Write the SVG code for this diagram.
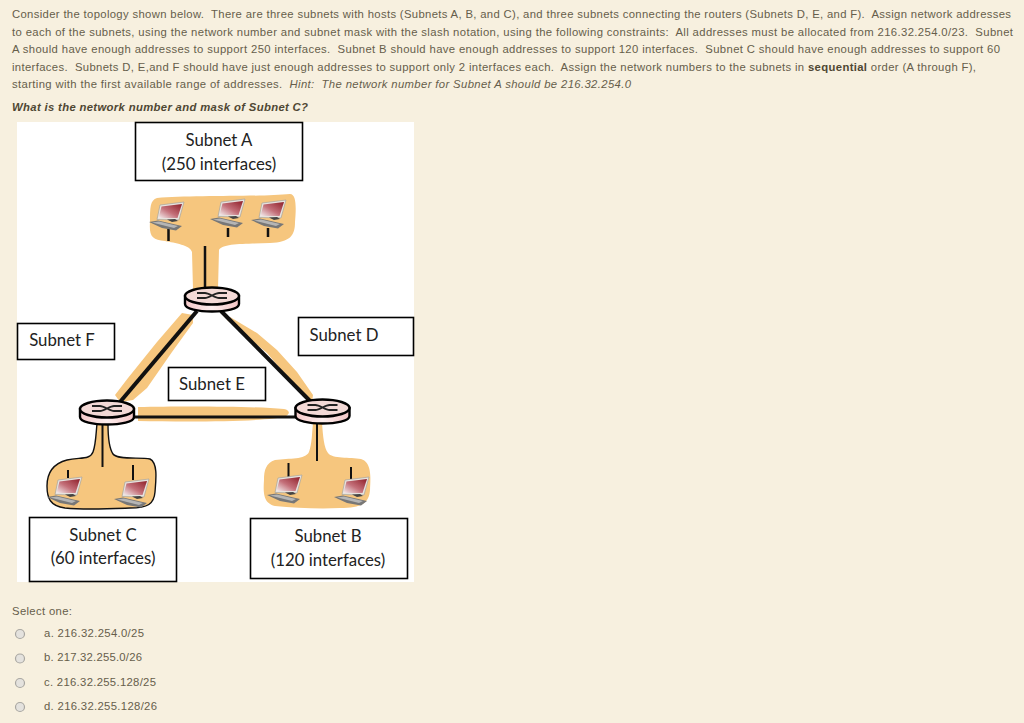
<svg xmlns="http://www.w3.org/2000/svg" xmlns:xlink="http://www.w3.org/1999/xlink" width="1024" height="723" viewBox="0 0 1024 723">
<style>
.t{font-family:"Liberation Sans",Arial,sans-serif;font-size:11.3px;fill:#665e4b;white-space:pre}
.i{font-style:italic}
.b{font-weight:bold;fill:#4f4733}
.box{fill:#fff;stroke:#000;stroke-width:1.6}
.lbl{font-family:Lato,"Open Sans",sans-serif;font-size:16.800px;fill:#222;text-anchor:middle}
.wire{stroke:#111;fill:none;stroke-linecap:butt}
.blob{fill:#f6c67e}
.radio{fill:#e4e2de;stroke:#a9a7a2;stroke-width:1.2}
</style>
<defs>
<linearGradient id="scr" x1="1" y1="0" x2="0" y2="1"><stop offset="0" stop-color="#8f1f29"/><stop offset=".55" stop-color="#c4707a"/><stop offset="1" stop-color="#f4eeee"/></linearGradient>
<linearGradient id="rt" x1="0" y1="0" x2="1" y2="0"><stop offset="0" stop-color="#f5c9c9"/><stop offset=".5" stop-color="#fdeeee"/><stop offset="1" stop-color="#f3c4c4"/></linearGradient>
<g id="laptop">
<path d="M-7 -10 L17 -13 L12 5 L-10 4.500 Z" fill="#e6e3df" stroke="#a8a39b" stroke-width=".7"/>
<path d="M-5.500 -8.500 L15 -11 L10.500 3 L-8.500 3 Z" fill="url(#scr)"/>
<path d="M0 4.500 L5 7 L11 6 L8 4 Z" fill="#444"/>
<path d="M-18 7 L-9 5.500 L15 11 L9 15.500 L-5 13 Z" fill="#777"/>
<path d="M-15 7.500 L-8 6.500 L11 11 L7 13 Z" fill="#b5b5b5"/>
</g>
<g id="router">
<path d="M-27 -3 V5 C-27 15 27 15 27 5 V-3 Z" fill="url(#rt)" stroke="#000" stroke-width="2.400"/>
<ellipse cx="0" cy="-3" rx="27" ry="8.500" fill="#f3d9d6" stroke="#000" stroke-width="2.400"/>
<path d="M-15 -6 H-7 C-3 -6 3 -1 7 -1 H15 M-15 -1 H-7 C-3 -1 3 -6 7 -6 H15" fill="none" stroke="#222" stroke-width="1.800"/>
</g>
</defs>
<rect width="1024" height="723" fill="#f7f0df"/>
<rect x="17" y="122" width="397" height="460" fill="#fff"/>

<g id="question">
<text class="t" x="12" y="18" textLength="999" lengthAdjust="spacing">Consider the topology shown below.  There are three subnets with hosts (Subnets A, B, and C), and three subnets connecting the routers (Subnets D, E, and F).  Assign network addresses</text>
<text class="t" x="12" y="35.500" textLength="1001" lengthAdjust="spacing">to each of the subnets, using the network number and subnet mask with the slash notation, using the following constraints:  All addresses must be allocated from 216.32.254.0/23.  Subnet</text>
<text class="t" x="12" y="53" textLength="988" lengthAdjust="spacing">A should have enough addresses to support 250 interfaces.  Subnet B should have enough addresses to support 120 interfaces.  Subnet C should have enough addresses to support 60</text>
<text class="t" x="12" y="70.500" textLength="964" lengthAdjust="spacing">interfaces.  Subnets D, E,and F should have just enough addresses to support only 2 interfaces each.  Assign the network numbers to the subnets in <tspan font-weight="bold" fill="#4f4733">sequential</tspan> order (A through F),</text>
<text class="t" x="12" y="88" textLength="619" lengthAdjust="spacing">starting with the first available range of addresses.  <tspan class="i">Hint:  The network number for Subnet A should be 216.32.254.0</tspan></text>
<text class="t i b" x="12" y="111" textLength="296" lengthAdjust="spacing">What is the network number and mask of Subnet C?</text>
</g>

<g id="connectors">
<path class="blob" d="M182 313 L193 315 L193 323 L172 352 L147 388 L133 400 L120 402 L115 395 L128 378 L157 342 Z"/>
<path class="blob" d="M230 317 L257 333 L277 350 L297 372 L313 395 L312 402 L300 392 L267 353 L227 320 Z"/>
<path class="blob" d="M138 407 C180 406 250 406 284 409 C290 410 290 414 286 416 C270 422 190 422 138 421 Z"/>
<path class="wire" stroke-width="4" d="M197 311 L120 402"/>
<path class="wire" stroke-width="4" d="M221 311 L311 402"/>
<path class="wire" stroke-width="3" d="M134 417 H297"/>
</g>

<g id="lan-a">
<path class="blob" d="M157 198 C190 195 260 197 290 194 C297 194 296 210 295 222 C295 236 290 242 270 243 C245 244 222 243 219 250 L218 289 H193 L192 252 C190 245 175 243 165 241 C152 240 149 236 150 222 C150 208 150 200 157 198 Z"/>
<path class="wire" stroke-width="2.500" d="M168.500 229 V241 M228 228 V237 M268 228 V237"/>
<path class="wire" stroke-width="2.500" d="M205 246 V288"/>
<use xlink:href="#laptop" href="#laptop" x="167" y="215"/>
<use xlink:href="#laptop" href="#laptop" x="228" y="212"/>
<use xlink:href="#laptop" href="#laptop" x="269" y="213"/>
</g>
<g id="lan-c">
<path class="blob" stroke="#111" stroke-width="1.400" d="M67 460 C80 457 90 460 93 452 C96 444 96 432 97 424 H108 C108 436 109 448 113 454 C117 460 140 457 150 459 C158 463 156 480 155 492 C154 504 148 508 130 508 C105 509 85 510 65 508 C50 506 47 498 47 486 C47 474 52 464 67 460 Z"/>
<path class="wire" stroke-width="2" d="M102.500 424 V467 M68 470 V478 M133 465 V480"/>
<use xlink:href="#laptop" href="#laptop" x="65" y="490"/>
<use xlink:href="#laptop" href="#laptop" x="132" y="492"/>
</g>
<g id="lan-b">
<path class="blob" d="M275 460 C290 458 305 460 309 452 C312 444 312 432 313 423 H322 C323 436 324 448 328 453 C332 459 350 457 361 459 C371 462 371 475 370 490 C369 503 362 508 340 508 C320 509 295 508 275 506 C264 503 263 495 264 480 C264 470 266 463 275 460 Z"/>
<path class="wire" stroke-width="2" d="M317 423 V461 M288.500 463 V479 M351 467 V479"/>
<use xlink:href="#laptop" href="#laptop" x="285" y="488"/>
<use xlink:href="#laptop" href="#laptop" x="352" y="490"/>
</g>

<g id="router-top"><use xlink:href="#router" href="#router" x="212" y="299"/></g>
<g id="router-left"><use xlink:href="#router" href="#router" x="107" y="412"/></g>
<g id="router-right"><use xlink:href="#router" href="#router" x="322.500" y="411"/></g>

<g id="subnet-a"><rect class="box" x="135.500" y="122.500" width="167" height="58"/><text class="lbl" x="219" y="146">Subnet A</text><text class="lbl" x="219" y="169.500">(250 interfaces)</text></g>
<g id="subnet-f"><rect class="box" x="17.500" y="323.500" width="97" height="36"/><text class="lbl" x="62" y="346">Subnet F</text></g>
<g id="subnet-d"><rect class="box" x="298.500" y="317.500" width="115" height="38"/><text class="lbl" x="344" y="341">Subnet D</text></g>
<g id="subnet-e"><rect class="box" x="168.500" y="367.500" width="97" height="33"/><text class="lbl" x="212" y="390">Subnet E</text></g>
<g id="subnet-c"><rect class="box" x="29.500" y="517.500" width="147" height="64"/><text class="lbl" x="103" y="541">Subnet C</text><text class="lbl" x="103" y="563.500">(60 interfaces)</text></g>
<g id="subnet-b"><rect class="box" x="250.500" y="518.500" width="157" height="60"/><text class="lbl" x="328" y="542">Subnet B</text><text class="lbl" x="328" y="565.500">(120 interfaces)</text></g>

<g id="answers">
<text class="t" x="12" y="615" textLength="60" lengthAdjust="spacing">Select one:</text>
<circle class="radio" cx="20" cy="634" r="4.500"/><text class="t" x="44" y="636.500" textLength="100" lengthAdjust="spacing">a. 216.32.254.0/25</text>
<circle class="radio" cx="20" cy="658.500" r="4.500"/><text class="t" x="44" y="661" textLength="98" lengthAdjust="spacing">b. 217.32.255.0/26</text>
<circle class="radio" cx="20" cy="683" r="4.500"/><text class="t" x="44" y="685.500" textLength="112" lengthAdjust="spacing">c. 216.32.255.128/25</text>
<circle class="radio" cx="20" cy="707" r="4.500"/><text class="t" x="44" y="710" textLength="113" lengthAdjust="spacing">d. 216.32.255.128/26</text>
</g>
</svg>
